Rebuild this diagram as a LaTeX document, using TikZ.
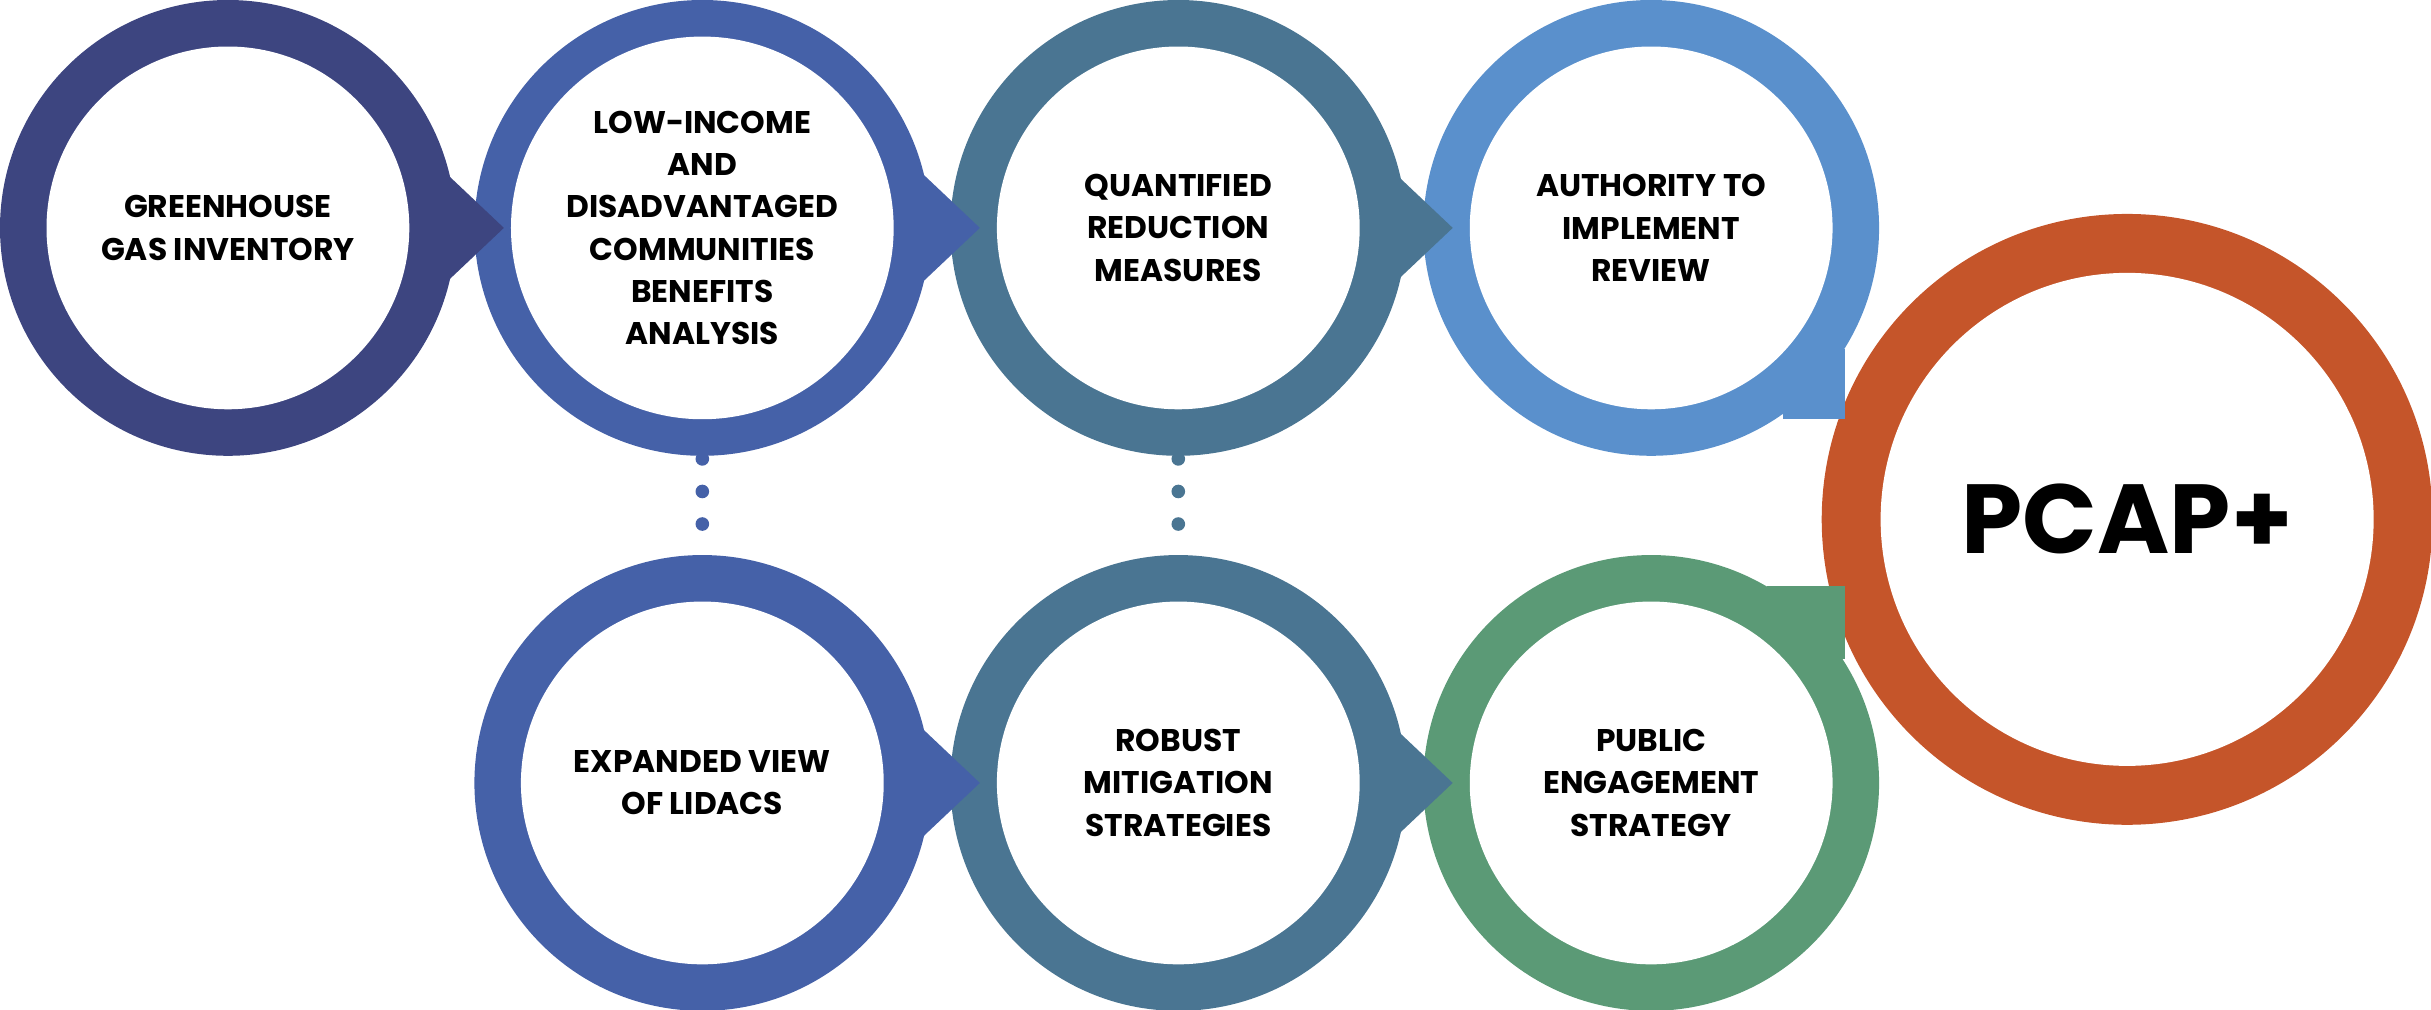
\documentclass[tikz,border=0pt]{standalone}
\usepackage{fontspec}
\setmainfont{Poppins}
\definecolor{cA}{HTML}{3D4580}
\definecolor{cB}{HTML}{4561A8}
\definecolor{cC}{HTML}{4A7592}
\definecolor{cD}{HTML}{5A90CC}
\definecolor{cE}{HTML}{5B9A76}
\definecolor{cF}{HTML}{C5552A}
\begin{document}
\begin{tikzpicture}[x=0.02cm,y=-0.02cm,
  lbl/.style={align=center,font=\fontsize{11.5pt}{15.5pt}\selectfont\bfseries,text=black},
  dot/.style={circle,fill=cB,inner sep=0pt,minimum size=5pt}]
\useasboundingbox (0,0) rectangle (1568,651);
% outer circles
\fill[cA] (147,147) circle (147);
\fill[cB] (453,147) circle (147);
\fill[cC] (760,147) circle (147);
\fill[cD] (1065,147) circle (147);
\fill[cB] (453,505) circle (147);
\fill[cC] (760,505) circle (147);
\fill[cE] (1065,505) circle (147);
% arrow tabs
\fill[cA] (270,95) -- (325,147) -- (270,199) -- cycle;
\fill[cB] (577,95) -- (632,147) -- (577,199) -- cycle;
\fill[cC] (882,95) -- (937,147) -- (882,199) -- cycle;
\fill[cB] (577,453) -- (632,505) -- (577,557) -- cycle;
\fill[cC] (882,453) -- (937,505) -- (882,557) -- cycle;
% orange
\fill[cF] (1372,335) circle (197);
\fill[white] (1372,335) circle (159);
% rectangular tabs
\fill[cD] (1150,225) rectangle (1190,270);
\fill[cE] (1140,378) rectangle (1190,425);
% inner circles with labels
\node[circle,fill=white,minimum size=234*0.02cm,lbl] (n1) at (147,147) {GREENHOUSE\\GAS INVENTORY};
\node[circle,fill=white,minimum size=234*0.02cm,lbl] (n2) at (453,147) {LOW-INCOME\\AND\\DISADVANTAGED\\COMMUNITIES\\BENEFITS\\ANALYSIS};
\node[circle,fill=white,minimum size=234*0.02cm,lbl] (n3) at (760,147) {QUANTIFIED\\REDUCTION\\MEASURES};
\node[circle,fill=white,minimum size=234*0.02cm,lbl] (n4) at (1065,147) {AUTHORITY TO\\IMPLEMENT\\REVIEW};
\node[circle,fill=white,minimum size=234*0.02cm,lbl] (n5) at (453,505) {EXPANDED VIEW\\OF LIDACS};
\node[circle,fill=white,minimum size=234*0.02cm,lbl] (n6) at (760,505) {ROBUST\\MITIGATION\\STRATEGIES};
\node[circle,fill=white,minimum size=234*0.02cm,lbl] (n7) at (1065,505) {PUBLIC\\ENGAGEMENT\\STRATEGY};
\node[font=\fontsize{36pt}{40pt}\selectfont\bfseries] (p) at (1372,335) {PCAP+};
% dots
\foreach \x/\c in {453/cB,760/cC}{
  \foreach \y in {296,317,338}{ \node[dot,fill=\c] at (\x,\y) {}; }
}
\end{tikzpicture}
\end{document}
